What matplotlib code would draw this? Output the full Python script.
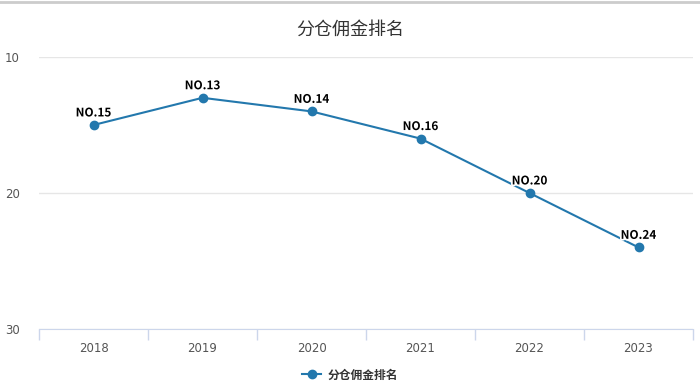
import matplotlib.pyplot as plt
from matplotlib.lines import Line2D
import matplotlib.patheffects as pe

plt.rcParams['font.family'] = ['Noto Sans CJK SC', 'DejaVu Sans']

years = ["2018", "2019", "2020", "2021", "2022", "2023"]
ranks = [15, 13, 14, 16, 20, 24]
series_name = "分仓佣金排名"
color = "#2378ad"

fig = plt.figure(figsize=(7, 3.86), dpi=100)
ax = fig.add_axes([39 / 700, 1 - 329 / 386, 654 / 700, 272 / 386])

x = list(range(len(years)))
ax.plot(x, ranks, color=color, linewidth=1.5, marker="o", markersize=6, zorder=3)
for xi, r in zip(x, ranks):
    ax.annotate(f"NO.{r}", (xi, r), xytext=(0, 4), textcoords="offset points",
                ha="center", va="bottom", fontsize=8.5, fontweight="bold", color="black",
                path_effects=[pe.withStroke(linewidth=2.5, foreground="white")], zorder=4)

ax.set_xlim(-0.5, len(years) - 0.5)
ax.set_ylim(30, 10)
ax.set_yticks([10, 20, 30])
ax.set_xticks(x)
ax.set_xticklabels(years, family="DejaVu Sans")
ax.set_yticklabels(["10", "20", "30"], family="DejaVu Sans")
ax.set_xticks([i - 0.5 for i in range(len(years) + 1)], minor=True)
ax.tick_params(axis="x", which="major", length=0, pad=9, labelsize=8.5, labelcolor="#555555")
ax.tick_params(axis="x", which="minor", length=8, color="#ccd6eb", width=1)
ax.tick_params(axis="y", length=0, pad=14, labelsize=8.5, labelcolor="#555555")
ax.grid(axis="y", color="#e6e6e6", linewidth=1)
for s in ["top", "right", "left"]:
    ax.spines[s].set_visible(False)
ax.spines["bottom"].set_color("#ccd6eb")
ax.set_axisbelow(True)

fig.text(0.5, 1 - 30 / 386, series_name, ha="center", va="center", fontsize=13, color="#333333")

handle = Line2D([], [], color=color, linewidth=1.5, marker="o", markersize=6)
fig.legend([handle], [series_name], loc="center", bbox_to_anchor=(0.5, 1 - 375 / 386),
           frameon=False, prop={"size": 8.5, "weight": "bold"}, handlelength=1.6,
           handletextpad=0.5, labelcolor="#333333")

fig.add_artist(Line2D([0, 1], [1 - 1.5 / 386, 1 - 1.5 / 386], color="#cccccc", linewidth=2))

fig.savefig("out.png", dpi=100, facecolor="white")
